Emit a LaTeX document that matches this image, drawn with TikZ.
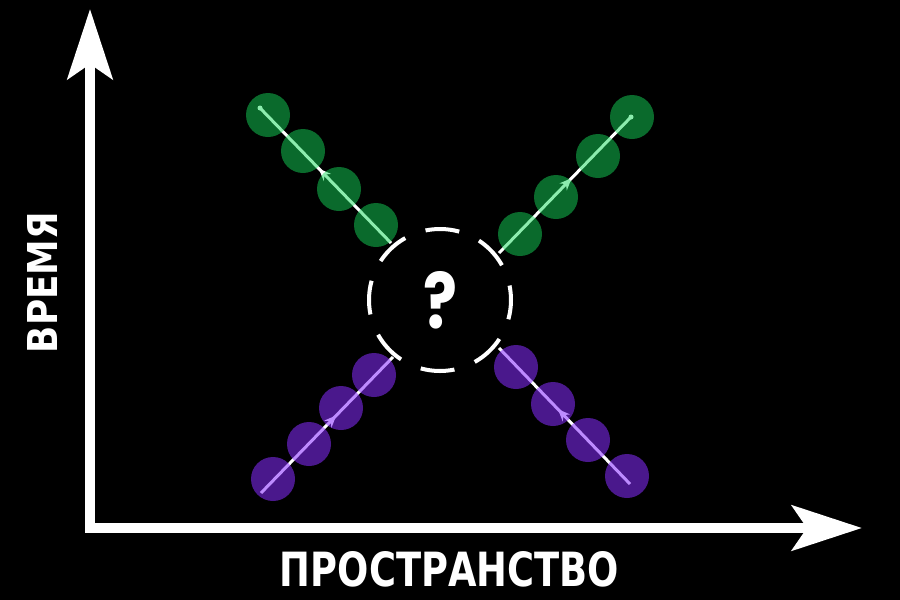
\documentclass[tikz,border=0pt]{standalone}
\usepackage{fontspec}
\setmainfont{DejaVu Sans}
\newfontfamily\qfont{Poppins}
\usetikzlibrary{arrows.meta,decorations.markings}
\definecolor{gcol}{RGB}{22,218,90}
\definecolor{pcol}{RGB}{136,45,255}
\tikzset{axtip/.tip={Stealth[length=70pt,width=45pt,inset=15pt]}}
\begin{document}
\begin{tikzpicture}[x=1pt,y=-1pt,
  axis/.style={white,line width=10pt,line join=miter},
  gbead/.style={circle,minimum size=44pt,inner sep=0pt,fill=gcol,fill opacity=0.49},
  pbead/.style={circle,minimum size=44pt,inner sep=0pt,fill=pcol,fill opacity=0.55},
  track/.style={white,line width=3pt,postaction={decorate},
    decoration={markings,mark=at position #1 with {\arrow{Stealth[length=12pt,width=10pt]}}}},
  track/.default=0.55,
  lbl/.style={text=white,font=\bfseries,inner sep=0pt},
  ring/.style={circle,minimum size=142pt,inner sep=0pt,draw=white,line width=4pt,
    dash pattern=on 34pt off 21.76pt,dash phase=19.45pt,text=white,font=\qfont\bfseries}
]
\fill[black] (0,0) rectangle (900,600);
\useasboundingbox (0,0) rectangle (900,600);

% axes
\coordinate (ytip) at (90,9);
\coordinate (O) at (90,528);
\coordinate (xtip) at (862,528);
\draw[axis,axtip-axtip] (ytip) -- (O) -- (xtip);

\node[lbl,rotate=90] (tl) at (42,282.5) {\resizebox{141pt}{30pt}{ВРЕМЯ}};
\node[lbl] (xl) at (449.5,569.5) {\resizebox{339pt}{35pt}{ПРОСТРАНСТВО}};

% centre
\node[ring] (q) at (440,300) {\resizebox{34pt}{57pt}{?}};

% track end points
\coordinate (a0) at (260,108); \coordinate (a1) at (391,243);
\coordinate (b0) at (631,117); \coordinate (b1) at (499,253);
\coordinate (c0) at (261,493); \coordinate (c1) at (393,357);
\coordinate (d0) at (630,484); \coordinate (d1) at (499,348);

\draw[track=0.55] (a1) -- (a0);
\draw[track=0.55] (b1) -- (b0);
\draw[track=0.57] (c0) -- (c1);
\draw[track=0.55] (d0) -- (d1);
\fill[white] (a0) circle[radius=2.5];
\fill[white] (b0) circle[radius=2.5];

% green beads
\node[gbead] (g1) at (268,115) {};
\node[gbead] (g2) at (303,151) {};
\node[gbead] (g3) at (339,189) {};
\node[gbead] (g4) at (376,225) {};
\node[gbead] (h1) at (632,117) {};
\node[gbead] (h2) at (598,156) {};
\node[gbead] (h3) at (556,197) {};
\node[gbead] (h4) at (520,234) {};
% purple beads
\node[pbead] (p1) at (273,479) {};
\node[pbead] (p2) at (309,444) {};
\node[pbead] (p3) at (341,408) {};
\node[pbead] (p4) at (374,375) {};
\node[pbead] (r1) at (516,367) {};
\node[pbead] (r2) at (553,404) {};
\node[pbead] (r3) at (588,440) {};
\node[pbead] (r4) at (627,476) {};
\end{tikzpicture}
\end{document}
